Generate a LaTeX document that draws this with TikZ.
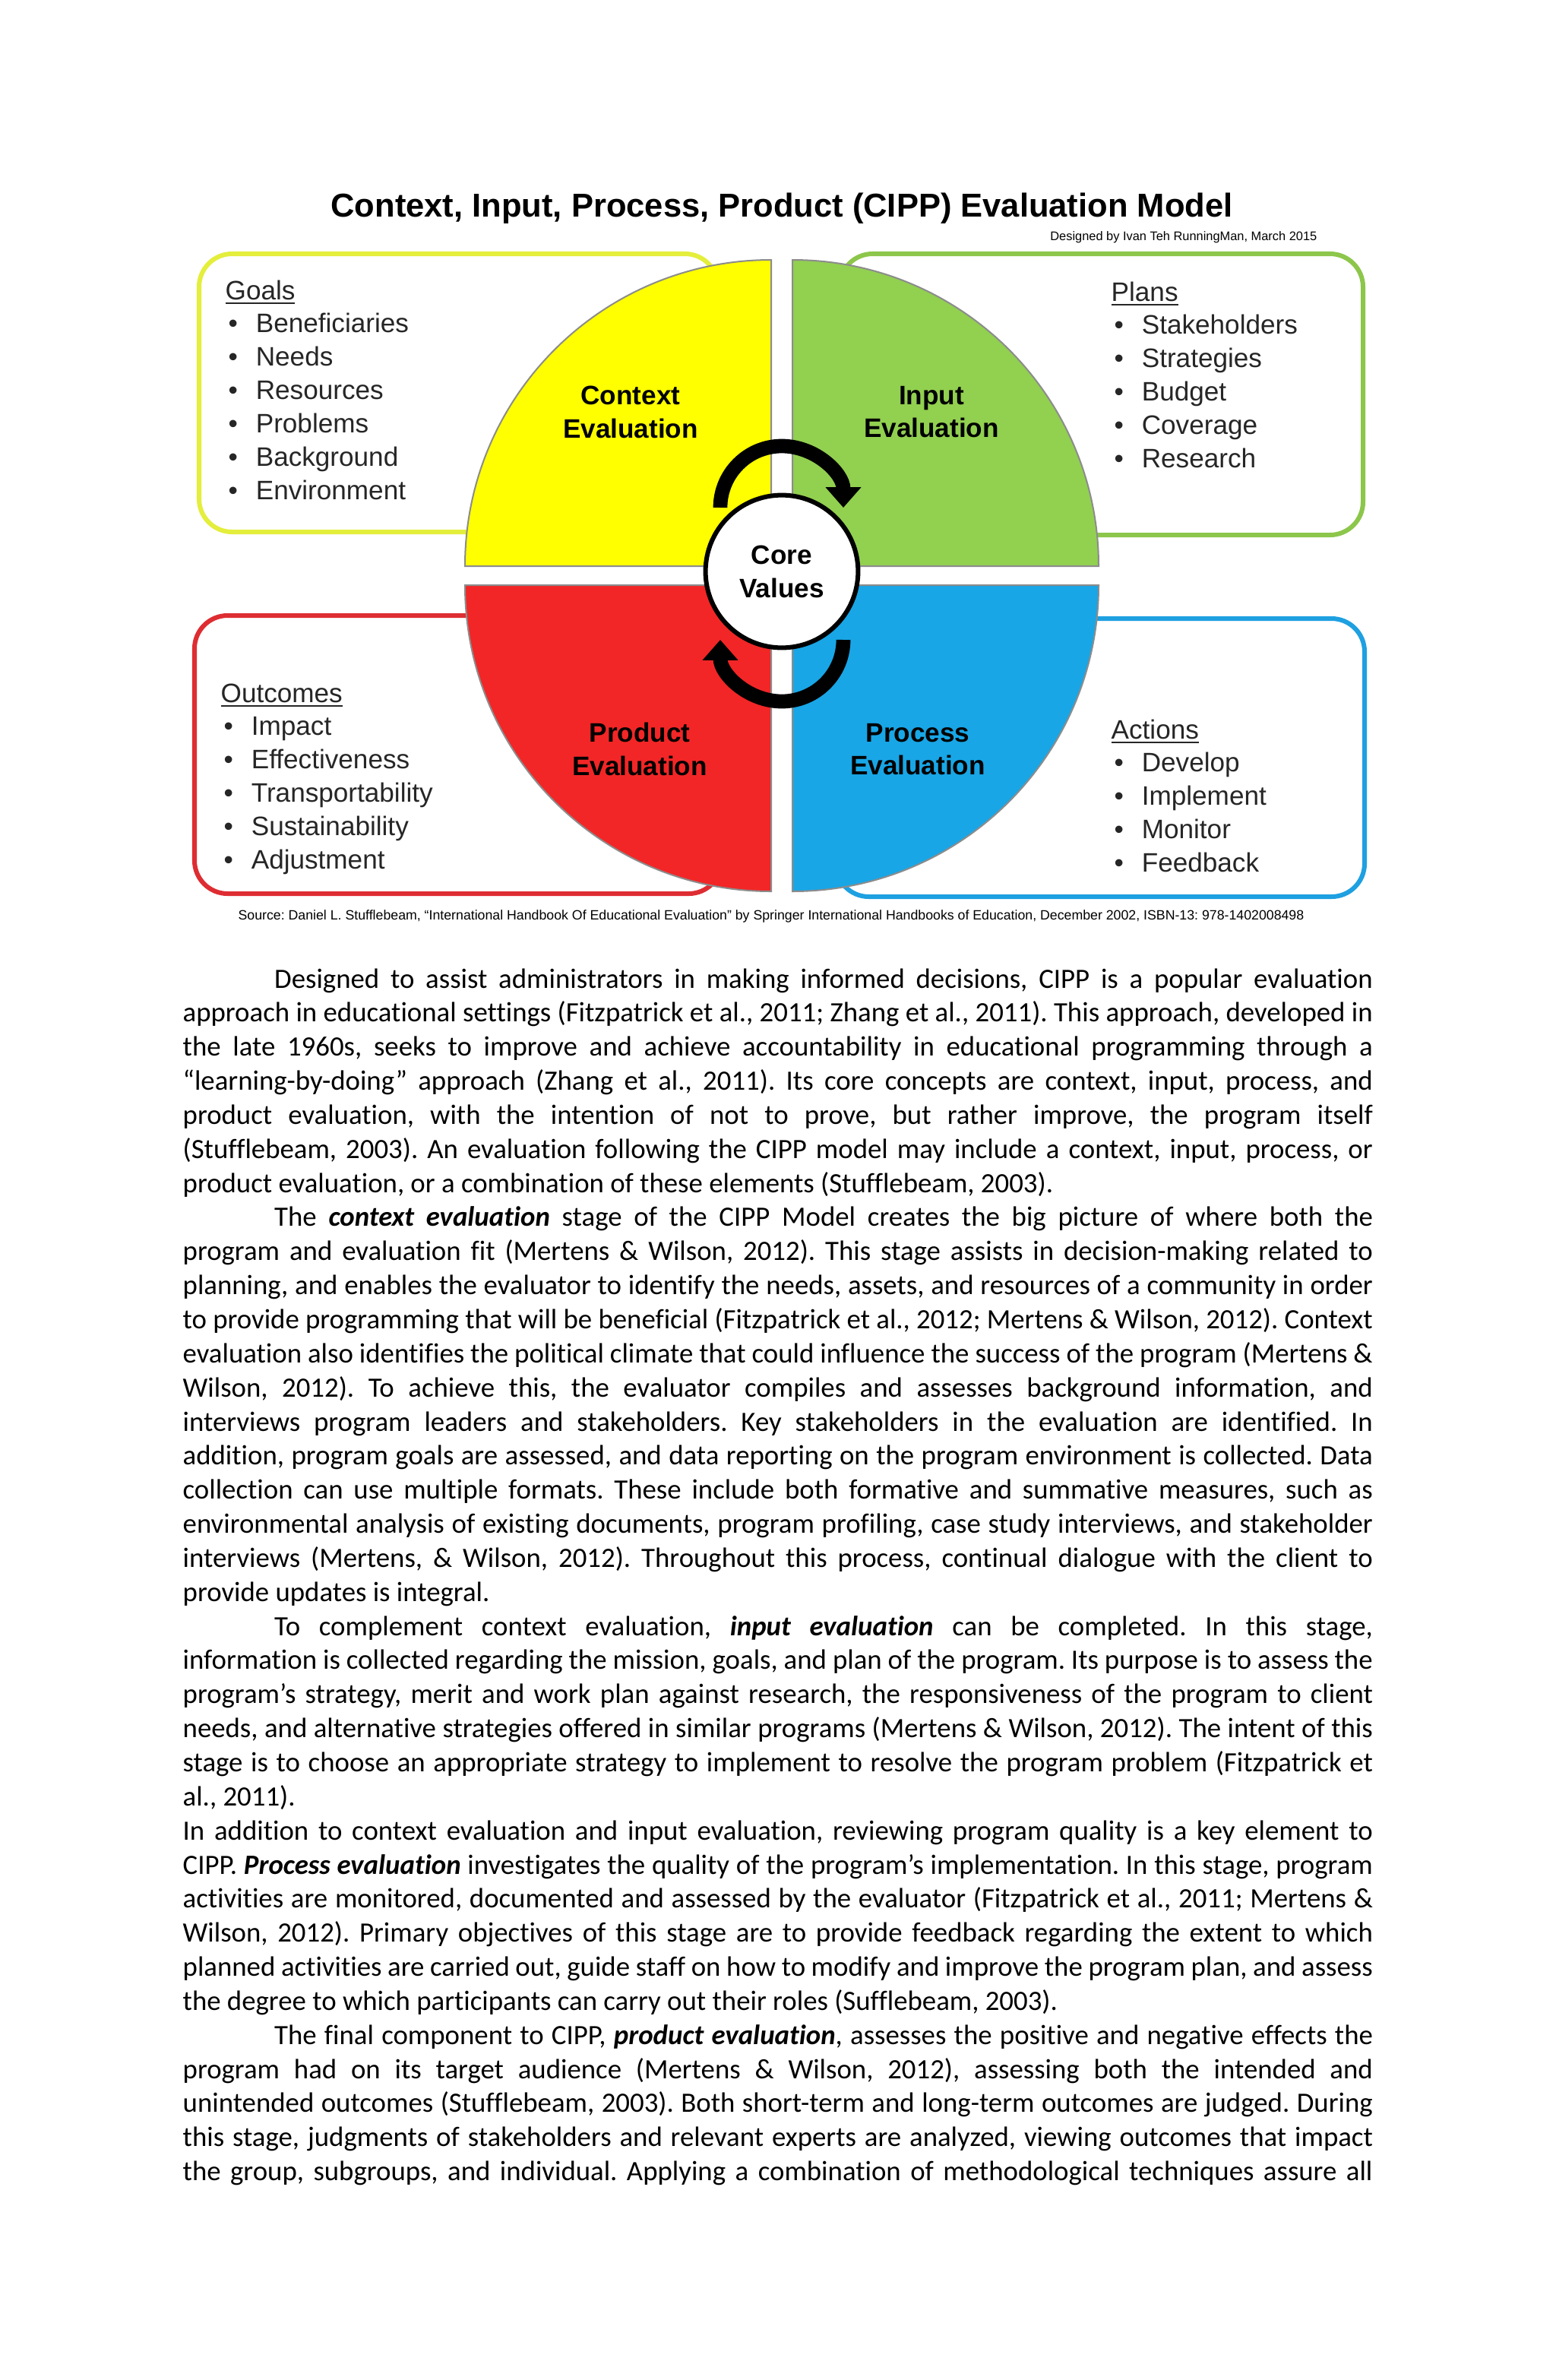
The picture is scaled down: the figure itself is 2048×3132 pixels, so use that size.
\documentclass[tikz,border=0pt]{standalone}
\usepackage{fontspec}
\setmainfont{Carlito}[Ligatures=NoCommon]
\newfontfamily\arialfont{Liberation Sans}
\usetikzlibrary{arrows.meta}

\definecolor{ctxfill}{RGB}{255,255,0}
\definecolor{inpfill}{RGB}{146,208,80}
\definecolor{prodfill}{RGB}{242,38,38}
\definecolor{procfill}{RGB}{24,166,230}
\definecolor{goalline}{RGB}{228,238,60}
\definecolor{planline}{RGB}{140,198,75}
\definecolor{outline}{RGB}{222,45,50}
\definecolor{actline}{RGB}{30,160,225}

\hyphenpenalty=10000
\tolerance=9999
\parskip=0pt
\frenchspacing

% bullet item for the four lists
\newcommand{\itm}[1]{\hspace*{1.2pt}\makebox[10.8pt][l]{\textbullet}#1}

\begin{document}
\begin{tikzpicture}[x=0.2988pt,y=-0.2988pt,
  listbox/.style={rounded corners=13pt,line width=1.8pt,fill=white},
  sector/.style={draw=black!45,line width=0.6pt},
  lbl/.style={font=\arialfont\bfseries\fontsize{10.5}{13.1}\selectfont,align=center,inner sep=0pt},
  list/.style={font=\arialfont\fontsize{10.5}{13.1}\selectfont,text width=150pt,align=left,anchor=base west,inner sep=0pt,text=black!85},
  smallprint/.style={font=\arialfont\fontsize{5.3}{6}\selectfont,inner sep=0pt},
  cyclearrow/.style={line width=5.6pt,-{Triangle[width=13.5pt,length=8pt]}}]
\fill[white] (0,0) rectangle (2048,3132);
\useasboundingbox (0,0) rectangle (2048,3132);

% title
\node[font=\arialfont\bfseries\fontsize{13}{15}\selectfont,inner sep=0pt] (title) at (1029,274) {Context, Input, Process, Product (CIPP) Evaluation Model};
\node[smallprint,font=\arialfont\fontsize{4.9}{6}\selectfont,anchor=east] (credit) at (1734,312) {Designed by Ivan Teh RunningMan, March 2015};

% outer boxes
\draw[listbox,draw=goalline] (262,334) rectangle (945,700);
\draw[listbox,draw=planline] (1105,334) rectangle (1794,704);
\draw[listbox,draw=outline] (256,810) rectangle (950,1176);
\draw[listbox,draw=actline] (1100,814) rectangle (1796,1180);

% quarters
\draw[sector,fill=ctxfill] (1015,745) -- (612,745) arc[start angle=180,end angle=270,radius=403] -- cycle;
\draw[sector,fill=inpfill] (1043,745) -- (1043,342) arc[start angle=270,end angle=360,radius=403] -- cycle;
\draw[sector,fill=prodfill] (1015,770) -- (612,770) arc[start angle=180,end angle=90,radius=403] -- cycle;
\draw[sector,fill=procfill] (1043,770) -- (1446,770) arc[start angle=0,end angle=90,radius=403] -- cycle;

\node[lbl] (context) at (830,542) {Context\\Evaluation};
\node[lbl] (input) at (1226,542) {Input\\Evaluation};
\node[lbl] (product) at (842,986) {Product\\Evaluation};
\node[lbl] (process) at (1208,986) {Process\\Evaluation};

% lists
\node[list] (goals) at (296,394) {\underline{Goals}\\\itm{Beneficiaries}\\\itm{Needs}\\\itm{Resources}\\\itm{Problems}\\\itm{Background}\\\itm{Environment}};
\node[list] (plans) at (1462,396) {\underline{Plans}\\\itm{Stakeholders}\\\itm{Strategies}\\\itm{Budget}\\\itm{Coverage}\\\itm{Research}};
\node[list] (outcomes) at (290,924) {\underline{Outcomes}\\\itm{Impact}\\\itm{Effectiveness}\\\itm{Transportability}\\\itm{Sustainability}\\\itm{Adjustment}};
\node[list] (actions) at (1462,972) {\underline{Actions}\\\itm{Develop}\\\itm{Implement}\\\itm{Monitor}\\\itm{Feedback}};

% core and cycle arrows
\coordinate (topstart) at (948,668);
\coordinate (botstart) at (1110,842);
\draw[cyclearrow] (topstart) arc[start angle=180,end angle=360,radius=81];
\draw[cyclearrow] (botstart) arc[start angle=0,end angle=180,radius=81];
\node[circle,draw,line width=1.8pt,fill=white,minimum size=60pt,inner sep=0pt,
  font=\arialfont\bfseries\fontsize{10.5}{13.1}\selectfont,align=center] (core) at (1029,752) {Core\\Values};

\node[smallprint] (source) at (1015,1206) {Source: Daniel L. Stufflebeam, “International Handbook Of Educational Evaluation” by Springer International Handbooks of Education, December 2002, ISBN-13: 978-1402008498};

% body text
\node[anchor=base west,inner sep=0pt,text width=468pt,align=justify,
  font=\fontsize{11}{13.4}\selectfont] (body) at (240,1300) {%
\hspace*{36pt}Designed to assist administrators in making informed decisions, CIPP is a popular evaluation\linebreak
approach in educational settings (Fitzpatrick et al., 2011; Zhang et al., 2011). This approach, developed in\linebreak
the late 1960s, seeks to improve and achieve accountability in educational programming through a\linebreak
“learning-by-doing” approach (Zhang et al., 2011). Its core concepts are context, input, process, and\linebreak
product evaluation, with the intention of not to prove, but rather improve, the program itself\linebreak
(Stufflebeam, 2003). An evaluation following the CIPP model may include a context, input, process, or\linebreak
product evaluation, or a combination of these elements (Stufflebeam, 2003).\par
\hspace*{36pt}The \textbf{\textit{context evaluation}} stage of the CIPP Model creates the big picture of where both the\linebreak
program and evaluation fit (Mertens \& Wilson, 2012). This stage assists in decision-making related to\linebreak
planning, and enables the evaluator to identify the needs, assets, and resources of a community in order\linebreak
to provide programming that will be beneficial (Fitzpatrick et al., 2012; Mertens \& Wilson, 2012). Context\linebreak
evaluation also identifies the political climate that could influence the success of the program (Mertens \&\linebreak
Wilson, 2012). To achieve this, the evaluator compiles and assesses background information, and\linebreak
interviews program leaders and stakeholders. Key stakeholders in the evaluation are identified. In\linebreak
addition, program goals are assessed, and data reporting on the program environment is collected. Data\linebreak
collection can use multiple formats. These include both formative and summative measures, such as\linebreak
environmental analysis of existing documents, program profiling, case study interviews, and stakeholder\linebreak
interviews (Mertens, \& Wilson, 2012). Throughout this process, continual dialogue with the client to\linebreak
provide updates is integral.\par
\hspace*{36pt}To complement context evaluation, \textbf{\textit{input evaluation}} can be completed. In this stage,\linebreak
information is collected regarding the mission, goals, and plan of the program. Its purpose is to assess the\linebreak
program’s strategy, merit and work plan against research, the responsiveness of the program to client\linebreak
needs, and alternative strategies offered in similar programs (Mertens \& Wilson, 2012). The intent of this\linebreak
stage is to choose an appropriate strategy to implement to resolve the program problem (Fitzpatrick et\linebreak
al., 2011).\par
In addition to context evaluation and input evaluation, reviewing program quality is a key element to\linebreak
CIPP. \textbf{\textit{Process evaluation}} investigates the quality of the program’s implementation. In this stage, program\linebreak
activities are monitored, documented and assessed by the evaluator (Fitzpatrick et al., 2011; Mertens \&\linebreak
Wilson, 2012). Primary objectives of this stage are to provide feedback regarding the extent to which\linebreak
planned activities are carried out, guide staff on how to modify and improve the program plan, and assess\linebreak
the degree to which participants can carry out their roles (Sufflebeam, 2003).\par
{\parfillskip=0pt\hspace*{36pt}The final component to CIPP, \textbf{\textit{product evaluation}}, assesses the positive and negative effects the\linebreak
program had on its target audience (Mertens \& Wilson, 2012), assessing both the intended and\linebreak
unintended outcomes (Stufflebeam, 2003). Both short-term and long-term outcomes are judged. During\linebreak
this stage, judgments of stakeholders and relevant experts are analyzed, viewing outcomes that impact\linebreak
the group, subgroups, and individual. Applying a combination of methodological techniques assure all\par}};
\end{tikzpicture}
\end{document}
